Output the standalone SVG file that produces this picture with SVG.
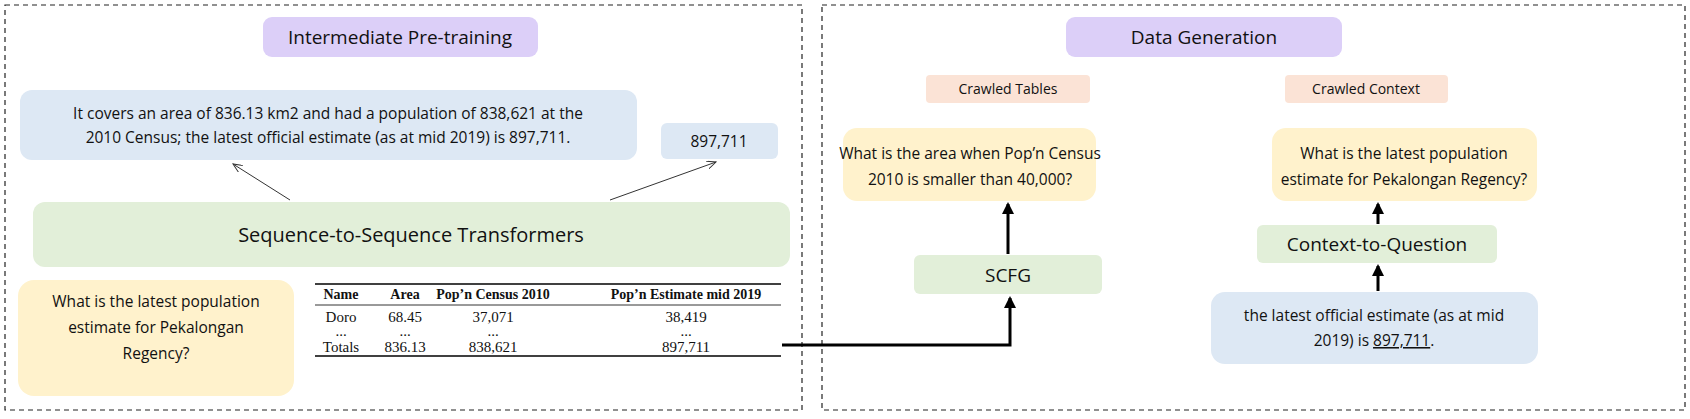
<svg xmlns="http://www.w3.org/2000/svg" width="1690" height="419" viewBox="0 0 1690 419">
<style>
text{font-family:"Open Sans","Liberation Sans",sans-serif;fill:#111;text-anchor:middle}
.s{font-size:15.5px}.m{font-size:19px}.l{font-size:20px}.xs{font-size:14px}
.t{font-family:"Liberation Serif",serif;font-size:15px}.tb{font-family:"Liberation Serif",serif;font-size:14px;font-weight:bold}
.frame{fill:none;stroke:#222;stroke-dasharray:5,4;stroke-width:1.2}
.pur{fill:#dccff8}.blu{fill:#dde8f4}.grn{fill:#e2efd9}.yel{fill:#fff2cc}.pch{fill:#fbe3d6}
</style>
<defs>
<marker id="thin" markerWidth="10" markerHeight="8" refX="9" refY="4" orient="auto" markerUnits="userSpaceOnUse"><path d="M0,0L9,4L0,8" fill="none" stroke="#333"/></marker>
<marker id="ah" markerWidth="12" markerHeight="12" refX="10" refY="6" orient="auto" markerUnits="userSpaceOnUse"><path d="M0,0L12,6L0,12Z" fill="#000"/></marker>
</defs>
<rect class="frame" x="5" y="5" width="797" height="405"/>
<rect class="frame" x="822" y="5" width="863" height="405"/>
<g id="pretrain"><rect class="pur" x="263" y="17" width="275" height="40" rx="9"/><text class="m" x="400" y="44">Intermediate Pre-training</text></g>
<g id="context"><rect class="blu" x="20" y="90" width="617" height="70" rx="12"/><text class="s" x="328" y="119">It covers an area of 836.13 km2 and had a population of 838,621 at the</text><text class="s" x="328" y="143">2010 Census; the latest official estimate (as at mid 2019) is 897,711.</text></g>
<g id="answer"><rect class="blu" x="661" y="123" width="117" height="36" rx="6"/><text class="s" x="719" y="147">897,711</text></g>
<g id="s2s"><rect class="grn" x="33" y="202" width="757" height="65" rx="12"/><text class="l" x="411" y="242">Sequence-to-Sequence Transformers</text></g>
<g id="question"><rect class="yel" x="18" y="280" width="276" height="116" rx="16"/><text class="s" x="156" y="307">What is the latest population</text><text class="s" x="156" y="333">estimate for Pekalongan</text><text class="s" x="156" y="359">Regency?</text></g>
<g id="table">
<line x1="315" y1="284" x2="781" y2="284" stroke="#000" stroke-width="1.5"/>
<line x1="315" y1="305" x2="781" y2="305" stroke="#000" stroke-width="0.8"/>
<line x1="315" y1="356" x2="781" y2="356" stroke="#000" stroke-width="1.5"/>
<text class="tb" x="341" y="299">Name</text><text class="tb" x="405" y="299">Area</text><text class="tb" x="493" y="299">Pop’n Census 2010</text><text class="tb" x="686" y="299">Pop’n Estimate mid 2019</text>
<text class="t" x="341" y="322">Doro</text><text class="t" x="405" y="322">68.45</text><text class="t" x="493" y="322">37,071</text><text class="t" x="686" y="322">38,419</text>
<text class="t" x="341" y="336">...</text><text class="t" x="405" y="336">...</text><text class="t" x="493" y="336">...</text><text class="t" x="686" y="336">...</text>
<text class="t" x="341" y="352">Totals</text><text class="t" x="405" y="352">836.13</text><text class="t" x="493" y="352">838,621</text><text class="t" x="686" y="352">897,711</text>
</g>
<g id="datagen"><rect class="pur" x="1066" y="17" width="276" height="40" rx="9"/><text class="m" x="1204" y="44">Data Generation</text></g>
<g id="ctables"><rect class="pch" x="926" y="75" width="164" height="28" rx="4"/><text class="xs" x="1008" y="94">Crawled Tables</text></g>
<g id="ccontext"><rect class="pch" x="1285" y="75" width="163" height="28" rx="4"/><text class="xs" x="1366" y="94">Crawled Context</text></g>
<g id="q1"><rect class="yel" x="843" y="128" width="253" height="73" rx="14"/><text class="s" x="970" y="159">What is the area when Pop’n Census</text><text class="s" x="970" y="185">2010 is smaller than 40,000?</text></g>
<g id="q2"><rect class="yel" x="1272" y="128" width="265" height="73" rx="14"/><text class="s" x="1404" y="159">What is the latest population</text><text class="s" x="1404" y="185">estimate for Pekalongan Regency?</text></g>
<g id="scfg"><rect class="grn" x="914" y="255" width="188" height="39" rx="6"/><text class="m" x="1008" y="282">SCFG</text></g>
<g id="c2q"><rect class="grn" x="1257" y="225" width="240" height="38" rx="6"/><text class="m" x="1377" y="251">Context-to-Question</text></g>
<g id="snippet"><rect class="blu" x="1211" y="292" width="327" height="72" rx="14"/><text class="s" x="1374" y="321">the latest official estimate (as at mid</text><text class="s" x="1374" y="346">2019) is <tspan text-decoration="underline">897,711</tspan>.</text></g>
<g id="connectors" fill="none">
<line x1="290" y1="200" x2="233" y2="164" stroke="#333" marker-end="url(#thin)"/>
<line x1="610" y1="200" x2="716" y2="162" stroke="#333" marker-end="url(#thin)"/>
<polyline points="782,345 1010,345 1010,298" stroke="#000" stroke-width="3" marker-end="url(#ah)"/>
<line x1="1008" y1="254" x2="1008" y2="204" stroke="#000" stroke-width="3" marker-end="url(#ah)"/>
<line x1="1378" y1="224" x2="1378" y2="204" stroke="#000" stroke-width="3" marker-end="url(#ah)"/>
<line x1="1378" y1="291" x2="1378" y2="266" stroke="#000" stroke-width="3" marker-end="url(#ah)"/>
</g>
</svg>
